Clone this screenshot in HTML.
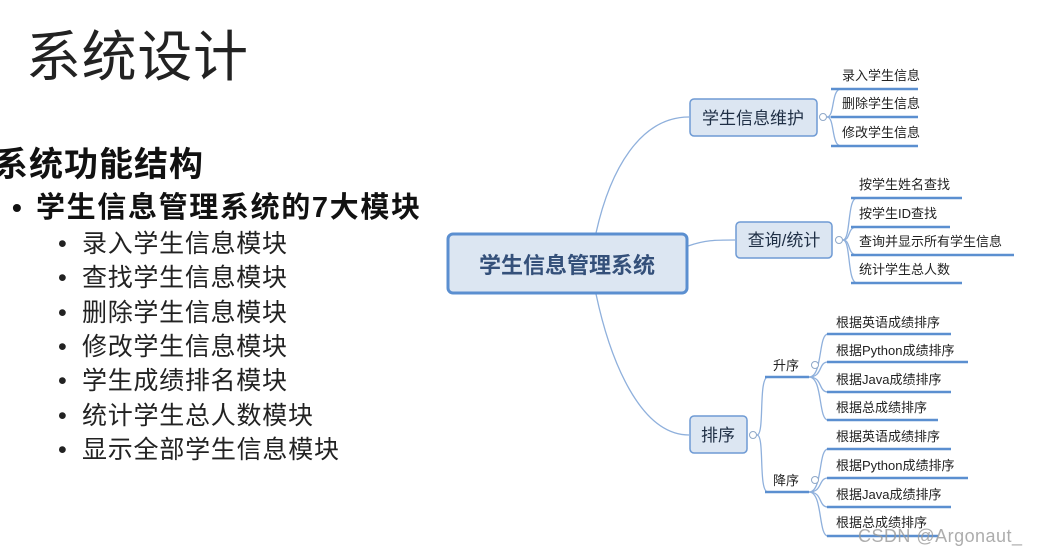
<!DOCTYPE html>
<html><head><meta charset="utf-8"><style>
html,body{margin:0;padding:0;background:#fff;}
svg{display:block;}
text{font-family:"Liberation Sans","Noto Sans CJK SC",sans-serif;}
</style></head><body>
<svg width="1038" height="556" viewBox="0 0 1038 556" xmlns="http://www.w3.org/2000/svg">
<text x="26" y="76" font-size="55" fill="#222" textLength="222">系统设计</text>
<text x="-6" y="176" font-size="34" font-weight="bold" fill="#111" textLength="209">系统功能结构</text>
<text x="12" y="217" font-size="28" font-weight="bold" fill="#111">•</text>
<text x="36" y="217" font-size="29" font-weight="bold" fill="#111" textLength="384">学生信息管理系统的7大模块</text>
<g font-size="25" fill="#222">
<text x="58" y="252">•</text><text x="82" y="252" textLength="205">录入学生信息模块</text>
<text x="58" y="286">•</text><text x="82" y="286" textLength="205">查找学生信息模块</text>
<text x="58" y="321">•</text><text x="82" y="321" textLength="205">删除学生信息模块</text>
<text x="58" y="355">•</text><text x="82" y="355" textLength="205">修改学生信息模块</text>
<text x="58" y="389">•</text><text x="82" y="389" textLength="205">学生成绩排名模块</text>
<text x="58" y="424">•</text><text x="82" y="424" textLength="231">统计学生总人数模块</text>
<text x="58" y="458">•</text><text x="82" y="458" textLength="257">显示全部学生信息模块</text>
</g>
<g fill="none" stroke="#8fb0dc" stroke-width="1.3">
<path d="M596 233 C610 170 640 117 689 117"/>
<path d="M688 246 C705 240 715 240 735 240"/>
<path d="M596 294 C610 360 640 435 689 435"/>
<path d="M827 117 C835 117 831 89 841 89"/>
<path d="M827 117 L841 117"/>
<path d="M827 117 C835 117 831 146 841 146"/>
<path d="M843 240 C851 240 847 198 857 198"/>
<path d="M843 240 C851 240 847 227 857 227"/>
<path d="M843 240 C851 240 847 255 857 255"/>
<path d="M843 240 C851 240 847 283 857 283"/>
<path d="M757 435 C765 435 758 377 768 377"/>
<path d="M757 435 C765 435 758 492 768 492"/>
<path d="M809 377 C823 377 818 334 828 334"/>
<path d="M809 377 C823 377 818 362 828 362"/>
<path d="M809 377 C823 377 818 392 828 392"/>
<path d="M809 377 C823 377 818 420 828 420"/>
<path d="M809 492 C823 492 818 449 828 449"/>
<path d="M809 492 C823 492 818 478 828 478"/>
<path d="M809 492 C823 492 818 507 828 507"/>
<path d="M809 492 C823 492 818 536 828 536"/>
</g>
<g stroke="#5b8fd0" stroke-width="2.5">
<line x1="831" y1="89" x2="918" y2="89"/><line x1="831" y1="117" x2="918" y2="117"/><line x1="831" y1="146" x2="918" y2="146"/>
<line x1="851" y1="198" x2="962" y2="198"/><line x1="851" y1="227" x2="950" y2="227"/><line x1="851" y1="255" x2="1014" y2="255"/><line x1="851" y1="283" x2="962" y2="283"/>
<line x1="765" y1="377" x2="809" y2="377"/><line x1="765" y1="492" x2="809" y2="492"/>
<line x1="827" y1="334" x2="951" y2="334"/><line x1="827" y1="362" x2="968" y2="362"/><line x1="827" y1="392" x2="951" y2="392"/><line x1="827" y1="420" x2="938" y2="420"/>
<line x1="827" y1="449" x2="951" y2="449"/><line x1="827" y1="478" x2="968" y2="478"/><line x1="827" y1="507" x2="951" y2="507"/><line x1="827" y1="536" x2="938" y2="536"/>
</g>
<g fill="#fff" stroke="#8fa8c8" stroke-width="1">
<circle cx="823" cy="117" r="3.5"/><circle cx="839" cy="240" r="3.5"/><circle cx="753" cy="435" r="3.5"/><circle cx="815" cy="365" r="3.5"/><circle cx="815" cy="480" r="3.5"/>
</g>
<rect x="448" y="234" width="239" height="59" rx="5" fill="#dce6f2" stroke="#5b8fd0" stroke-width="3"/>
<text x="567" y="273" font-size="22" font-weight="bold" fill="#34507a" text-anchor="middle">学生信息管理系统</text>
<rect x="690" y="99" width="127" height="37" rx="4" fill="#dce6f2" stroke="#6e9ad4" stroke-width="1.5"/>
<text x="753" y="124" font-size="17" fill="#1f2f45" text-anchor="middle">学生信息维护</text>
<rect x="736" y="222" width="96" height="36" rx="4" fill="#dce6f2" stroke="#6e9ad4" stroke-width="1.5"/>
<text x="784" y="246" font-size="17" fill="#1f2f45" text-anchor="middle">查询/统计</text>
<rect x="690" y="416" width="57" height="37" rx="4" fill="#dce6f2" stroke="#6e9ad4" stroke-width="1.5"/>
<text x="718" y="441" font-size="17" fill="#1f2f45" text-anchor="middle">排序</text>
<g font-size="13" fill="#222">
<text x="842" y="80">录入学生信息</text><text x="842" y="108">删除学生信息</text><text x="842" y="137">修改学生信息</text>
<text x="859" y="189">按学生姓名查找</text><text x="859" y="218">按学生ID查找</text><text x="859" y="246">查询并显示所有学生信息</text><text x="859" y="274">统计学生总人数</text>
<text x="773" y="370">升序</text><text x="773" y="485">降序</text>
<text x="836" y="327">根据英语成绩排序</text><text x="836" y="355">根据Python成绩排序</text><text x="836" y="384">根据Java成绩排序</text><text x="836" y="412">根据总成绩排序</text>
<text x="836" y="441">根据英语成绩排序</text><text x="836" y="470">根据Python成绩排序</text><text x="836" y="499">根据Java成绩排序</text><text x="836" y="527">根据总成绩排序</text>
</g>
<text x="858" y="542" font-size="18" fill="#999" fill-opacity="0.8" textLength="164">CSDN @Argonaut_</text>
</svg>
</body></html>
